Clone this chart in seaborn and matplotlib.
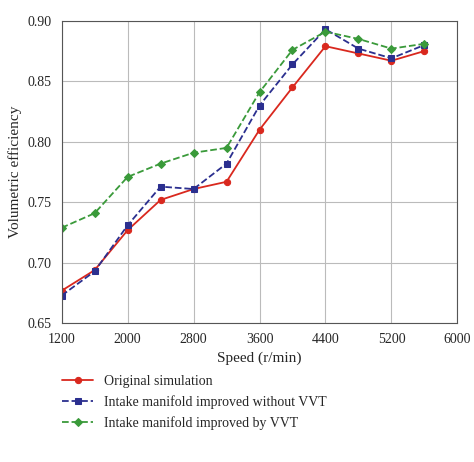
import matplotlib.pyplot as plt
import seaborn as sns
import pandas as pd

speed = [1200, 1600, 2000, 2400, 2800, 3200, 3600, 4000, 4400, 4800, 5200, 5600]
original = [0.677, 0.694, 0.727, 0.752, 0.761, 0.767, 0.810, 0.845, 0.879, 0.873, 0.867, 0.875]
no_vvt = [0.673, 0.693, 0.731, 0.763, 0.761, 0.782, 0.830, 0.864, 0.893, 0.877, 0.869, 0.880]
by_vvt = [0.729, 0.741, 0.771, 0.782, 0.791, 0.795, 0.841, 0.876, 0.891, 0.885, 0.877, 0.881]

sns.set_style("white")
plt.rcParams['font.family'] = ['Liberation Serif', 'DejaVu Serif']

fig = plt.figure(figsize=(4.74, 4.62), dpi=100)
ax = fig.add_axes([0.13, 0.30, 0.835, 0.655])

series = [
    ("Original simulation", original, "#d9281e", "o", "-"),
    ("Intake manifold improved without VVT", no_vvt, "#2b2f8f", "s", "--"),
    ("Intake manifold improved by VVT", by_vvt, "#3a9a3a", "D", "--"),
]
for label, vals, color, marker, ls in series:
    df = pd.DataFrame({"speed": speed, "eff": vals})
    sns.lineplot(data=df, x="speed", y="eff", ax=ax, color=color, marker=marker,
                 linestyle=ls, linewidth=1.3, markersize=4.5, markeredgecolor=color,
                 label=label)

ax.set_xlim(1200, 6000)
ax.set_ylim(0.65, 0.90)
ax.set_xticks(range(1200, 6001, 800))
ax.set_yticks([0.65, 0.70, 0.75, 0.80, 0.85, 0.90])
ax.set_yticklabels([f"{v:.2f}" for v in [0.65, 0.70, 0.75, 0.80, 0.85, 0.90]])
ax.grid(True, color="#bbbbbb", linewidth=0.8)
for s in ax.spines.values():
    s.set_color("#555555")
ax.tick_params(labelsize=10)
ax.set_xlabel("Speed (r/min)", fontsize=11)
ax.set_ylabel("Volumetric efficiency", fontsize=11)

ax.legend(loc="upper left", bbox_to_anchor=(-0.03, -0.13), frameon=False,
          fontsize=10, handlelength=2.2, labelspacing=0.5)

fig.savefig("out.png", dpi=100)
